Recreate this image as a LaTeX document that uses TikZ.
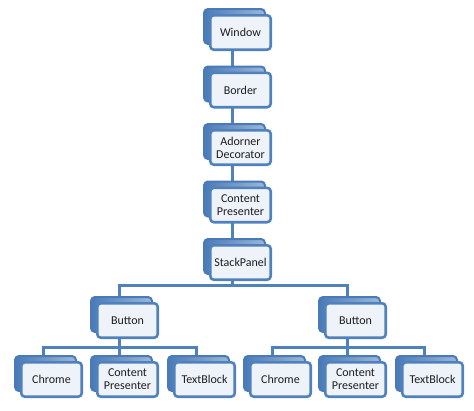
\documentclass[tikz,border=0pt]{standalone}
\usepackage{fontspec}
\setmainfont{Carlito}
\usetikzlibrary{backgrounds}
\definecolor{cardblue}{HTML}{4F81BD}
\definecolor{backblue}{HTML}{4A7BB8}
\definecolor{cardfill}{HTML}{EEF2F9}
\definecolor{txt}{HTML}{1E1E1E}
\tikzset{
  backcard/.style={rectangle, rounded corners=4pt, draw=backblue, line width=2pt,
    left color=backblue, right color=backblue!55!white,
    minimum width=61pt, minimum height=35pt, inner sep=0pt},
  frontcard/.style={rectangle, rounded corners=3.5pt, fill=cardfill, draw=cardblue,
    line width=2.6pt, minimum width=60.4pt, minimum height=34.4pt, inner sep=1pt,
    align=center, text=txt, font=\fontsize{12}{12.8}\selectfont},
  conn/.style={draw=cardblue, line width=3pt, miter limit=10}
}
\newcommand\mycard[4]{%
  \node[backcard] (#1b) at (#2+31.5,#3+18.5) {};
  \node[frontcard] (#1) at (#2+37.5,#3+24.5) {#4};
  \coordinate (#1c) at (#2+29.5,#3+20);
}
\begin{document}
\begin{tikzpicture}[x=1pt,y=-1pt]
\useasboundingbox (0,0) rectangle (474,410);
\mycard{w}{203}{8}{Window}
\mycard{bo}{203}{65.5}{Border}
\mycard{ad}{203}{123}{Adorner\\Decorator}
\mycard{cp}{203}{180.5}{Content\\Presenter}
\mycard{sp}{203}{238}{StackPanel}
\mycard{bl}{90}{296}{Button}
\mycard{br}{318}{296}{Button}
\mycard{chl}{14}{355}{Chrome}
\mycard{cpl}{90}{355}{Content\\Presenter}
\mycard{tbl}{167}{355}{TextBlock}
\mycard{chr}{243}{355}{Chrome}
\mycard{cpr}{318}{355}{Content\\Presenter}
\mycard{tbr}{395}{355}{TextBlock}
\coordinate (bar1) at (0,285.5);
\coordinate (bar2) at (0,347);
\begin{scope}[on background layer]
  \draw[conn] (wc) -- (boc) -- (adc) -- (cpc) -- (spc);
  \draw[conn] (spc) -- (spc |- bar1);
  \draw[conn] (blc) -- (blc |- bar1) -- (brc |- bar1) -- (brc);
  \draw[conn] (blc) -- (blc |- bar2);
  \draw[conn] (chlc) -- (chlc |- bar2) -- (tblc |- bar2) -- (tblc);
  \draw[conn] (cplc) -- (cplc |- bar2);
  \draw[conn] (brc) -- (brc |- bar2);
  \draw[conn] (chrc) -- (chrc |- bar2) -- (tbrc |- bar2) -- (tbrc);
  \draw[conn] (cprc) -- (cprc |- bar2);
\end{scope}
\end{tikzpicture}
\end{document}
